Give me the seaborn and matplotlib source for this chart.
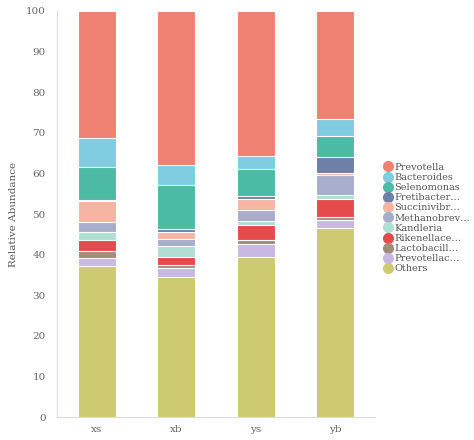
import pandas as pd
import numpy as np
import matplotlib
matplotlib.use('Agg')
import matplotlib.pyplot as plt
from matplotlib.lines import Line2D
import seaborn as sns

#samples and taxa (legend order, top of the bar first)
samples = ['xs', 'xb', 'ys', 'yb']
taxa = ['Prevotella', 'Bacteroides', 'Selenomonas', 'Fretibacter\u2026',
        'Succinivibr\u2026', 'Methanobrev\u2026', 'Kandleria', 'Rikenellace\u2026',
        'Lactobacill\u2026', 'Prevotellac\u2026', 'Others']

#relative abundance (%) for each taxon, per sample xs, xb, ys, yb
prevotella = [31.2, 38.0, 35.6, 26.6]
bacteroides = [7.2, 4.9, 3.2, 4.1]
selenomonas = [8.2, 10.9, 6.8, 5.2]
fretibacter = [0.1, 0.6, 0.6, 4.1]
succinivibr = [5.3, 1.8, 2.7, 0.5]
methanobrev = [2.4, 1.7, 2.9, 4.9]
kandleria = [2.1, 2.6, 1.0, 1.0]
rikenellaceae = [2.7, 2.0, 3.7, 4.4]
lactobacillus = [1.5, 0.9, 0.8, 0.6]
prevotellaceae = [2.2, 2.0, 3.3, 2.0]
others = [37.1, 34.6, 39.4, 46.6]

values = [prevotella, bacteroides, selenomonas, fretibacter, succinivibr,
          methanobrev, kandleria, rikenellaceae, lactobacillus, prevotellaceae, others]

colors = ['#EE8172', '#80CCE0', '#4DBAA5', '#6F80A8', '#F6B4A2', '#A6AECC',
          '#B0DED3', '#E54A4C', '#A28D7C', '#C8B8E2', '#CDCA72']

#build the table, stacked from Others (bottom) upwards
data = pd.DataFrame(values, index=taxa, columns=samples)
cum = data.iloc[::-1].cumsum()

plt.rcParams['font.family'] = ['DejaVu Serif']
fig = plt.figure(figsize=(4.74, 4.40), dpi=100)
ax = fig.add_axes([0.120, 0.052, 0.671, 0.923])

#draw the tallest cumulative bar first, smaller ones on top
for t, c in zip(taxa, colors):
    df = pd.DataFrame({'sample': samples, 'value': cum.loc[t].values})
    sns.barplot(data=df, x='sample', y='value', color=c, width=0.475,
                edgecolor='white', linewidth=0.8, saturation=1, ax=ax)

ax.set_ylim(0, 100)
ax.set_xlim(-0.5, 3.5)
ax.set_yticks(np.arange(0, 101, 10))
ax.set_xlabel('')
ax.set_ylabel('Relative Abundance', fontsize=7.5, color='#555555', labelpad=6)
ax.tick_params(axis='y', length=0, labelsize=7.5, colors='#666666', pad=8)
ax.tick_params(axis='x', length=0, labelsize=7.5, colors='#666666', pad=6)
for s in ['top', 'right']:
    ax.spines[s].set_visible(False)
for s in ['left', 'bottom']:
    ax.spines[s].set_color('#dcdcdc')
    ax.spines[s].set_linewidth(0.8)

#legend with round markers
handles = [Line2D([0], [0], marker='o', linestyle='', markersize=7,
                  markerfacecolor=c, markeredgecolor=c) for c in colors]
ax.legend(handles, taxa, loc='center left', bbox_to_anchor=(1.0, 0.49),
          frameon=False, fontsize=7.0, labelspacing=0.12, handletextpad=0.1,
          handlelength=1.2, borderaxespad=0.3, labelcolor='#555555')

plt.savefig('out.png', dpi=100)
